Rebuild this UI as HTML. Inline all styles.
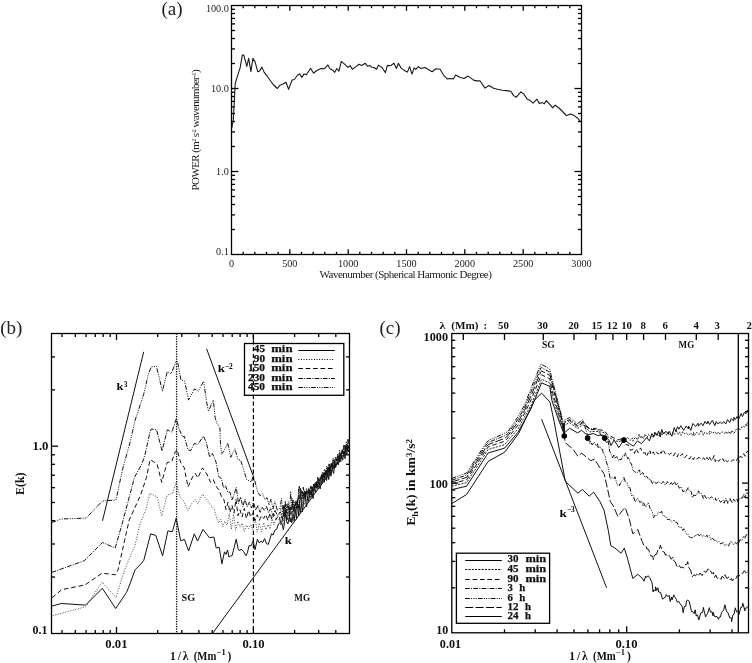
<!DOCTYPE html>
<html><head><meta charset="utf-8"><title>Power spectra</title><style>
html,body{margin:0;padding:0;background:#fff;}
body{width:752px;height:663px;overflow:hidden;}
svg{display:block;}
.ax{stroke:#000;stroke-width:1.3;fill:none;}
.ca{stroke:#1a1a1a;stroke-width:1.1;fill:none;stroke-linejoin:round;}
.c{fill:none;stroke:#111;stroke-width:1.0;stroke-linejoin:round;}
.s0{}
.s1{stroke:#444;stroke-dasharray:1 1.6;}
.s1c{stroke:#222;stroke-dasharray:2 1.3;}
.s2{stroke-dasharray:4.6 2.8;}
.s3{stroke-dasharray:4.6 1.3 1 1.3;}
.s4{stroke-dasharray:4.6 1.3 1 1.3 1 1.3 1 1.3;}
.s5{stroke-dasharray:8 2.4;}
.lg{fill:none;stroke:#000;stroke-width:1.2;}
.pw{stroke:#111;stroke-width:1.0;}
.vdot{stroke:#000;stroke-width:1.3;stroke-dasharray:1.2 1.3;}
.vdash{stroke:#000;stroke-width:1.2;stroke-dasharray:4.2 2.6;}
text{fill:#111;}
.ta,.tat{font-family:"Liberation Serif",serif;font-size:10.2px;fill:#1a1a1a;}
.tat{font-size:11px;}
.sup{font-size:6px;}
.tb{font-family:"Liberation Serif",serif;font-weight:bold;font-size:11.5px;fill:#111;}
.tt{font-family:"Liberation Serif",serif;font-weight:bold;font-size:10.8px;fill:#111;}
.tg{font-family:"Liberation Serif",serif;font-weight:bold;font-size:10.6px;fill:#111;}
.supb{font-size:7.4px;}
.subh{font-size:8.4px;}
.supt{font-family:"Liberation Serif",serif;font-weight:bold;font-size:7.6px;fill:#111;}
.tk{font-family:"Liberation Serif",serif;font-weight:bold;font-size:10.8px;fill:#000;}
.supk{font-size:7.4px;}
.tl{font-family:"Liberation Serif",serif;font-weight:bold;font-size:10.8px;fill:#111;stroke:#111;stroke-width:0.25;}
.plab{font-family:"Liberation Serif",serif;font-size:19px;fill:#222;}
</style></head>
<body><svg width="752" height="663" viewBox="0 0 752 663">
<rect width="752" height="663" fill="#fff"/>
<rect x="231.5" y="5.5" width="350.0" height="249.0" class="ax" fill="none"/>
<line x1="243.2" y1="254.5" x2="243.2" y2="251.8" class="ax"/>
<line x1="243.2" y1="5.5" x2="243.2" y2="8.2" class="ax"/>
<line x1="254.8" y1="254.5" x2="254.8" y2="251.8" class="ax"/>
<line x1="254.8" y1="5.5" x2="254.8" y2="8.2" class="ax"/>
<line x1="266.5" y1="254.5" x2="266.5" y2="251.8" class="ax"/>
<line x1="266.5" y1="5.5" x2="266.5" y2="8.2" class="ax"/>
<line x1="278.2" y1="254.5" x2="278.2" y2="251.8" class="ax"/>
<line x1="278.2" y1="5.5" x2="278.2" y2="8.2" class="ax"/>
<line x1="289.8" y1="254.5" x2="289.8" y2="249.3" class="ax"/>
<line x1="289.8" y1="5.5" x2="289.8" y2="10.7" class="ax"/>
<line x1="301.5" y1="254.5" x2="301.5" y2="251.8" class="ax"/>
<line x1="301.5" y1="5.5" x2="301.5" y2="8.2" class="ax"/>
<line x1="313.2" y1="254.5" x2="313.2" y2="251.8" class="ax"/>
<line x1="313.2" y1="5.5" x2="313.2" y2="8.2" class="ax"/>
<line x1="324.8" y1="254.5" x2="324.8" y2="251.8" class="ax"/>
<line x1="324.8" y1="5.5" x2="324.8" y2="8.2" class="ax"/>
<line x1="336.5" y1="254.5" x2="336.5" y2="251.8" class="ax"/>
<line x1="336.5" y1="5.5" x2="336.5" y2="8.2" class="ax"/>
<line x1="348.2" y1="254.5" x2="348.2" y2="249.3" class="ax"/>
<line x1="348.2" y1="5.5" x2="348.2" y2="10.7" class="ax"/>
<line x1="359.8" y1="254.5" x2="359.8" y2="251.8" class="ax"/>
<line x1="359.8" y1="5.5" x2="359.8" y2="8.2" class="ax"/>
<line x1="371.5" y1="254.5" x2="371.5" y2="251.8" class="ax"/>
<line x1="371.5" y1="5.5" x2="371.5" y2="8.2" class="ax"/>
<line x1="383.2" y1="254.5" x2="383.2" y2="251.8" class="ax"/>
<line x1="383.2" y1="5.5" x2="383.2" y2="8.2" class="ax"/>
<line x1="394.8" y1="254.5" x2="394.8" y2="251.8" class="ax"/>
<line x1="394.8" y1="5.5" x2="394.8" y2="8.2" class="ax"/>
<line x1="406.5" y1="254.5" x2="406.5" y2="249.3" class="ax"/>
<line x1="406.5" y1="5.5" x2="406.5" y2="10.7" class="ax"/>
<line x1="418.2" y1="254.5" x2="418.2" y2="251.8" class="ax"/>
<line x1="418.2" y1="5.5" x2="418.2" y2="8.2" class="ax"/>
<line x1="429.8" y1="254.5" x2="429.8" y2="251.8" class="ax"/>
<line x1="429.8" y1="5.5" x2="429.8" y2="8.2" class="ax"/>
<line x1="441.5" y1="254.5" x2="441.5" y2="251.8" class="ax"/>
<line x1="441.5" y1="5.5" x2="441.5" y2="8.2" class="ax"/>
<line x1="453.2" y1="254.5" x2="453.2" y2="251.8" class="ax"/>
<line x1="453.2" y1="5.5" x2="453.2" y2="8.2" class="ax"/>
<line x1="464.8" y1="254.5" x2="464.8" y2="249.3" class="ax"/>
<line x1="464.8" y1="5.5" x2="464.8" y2="10.7" class="ax"/>
<line x1="476.5" y1="254.5" x2="476.5" y2="251.8" class="ax"/>
<line x1="476.5" y1="5.5" x2="476.5" y2="8.2" class="ax"/>
<line x1="488.2" y1="254.5" x2="488.2" y2="251.8" class="ax"/>
<line x1="488.2" y1="5.5" x2="488.2" y2="8.2" class="ax"/>
<line x1="499.8" y1="254.5" x2="499.8" y2="251.8" class="ax"/>
<line x1="499.8" y1="5.5" x2="499.8" y2="8.2" class="ax"/>
<line x1="511.5" y1="254.5" x2="511.5" y2="251.8" class="ax"/>
<line x1="511.5" y1="5.5" x2="511.5" y2="8.2" class="ax"/>
<line x1="523.2" y1="254.5" x2="523.2" y2="249.3" class="ax"/>
<line x1="523.2" y1="5.5" x2="523.2" y2="10.7" class="ax"/>
<line x1="534.8" y1="254.5" x2="534.8" y2="251.8" class="ax"/>
<line x1="534.8" y1="5.5" x2="534.8" y2="8.2" class="ax"/>
<line x1="546.5" y1="254.5" x2="546.5" y2="251.8" class="ax"/>
<line x1="546.5" y1="5.5" x2="546.5" y2="8.2" class="ax"/>
<line x1="558.2" y1="254.5" x2="558.2" y2="251.8" class="ax"/>
<line x1="558.2" y1="5.5" x2="558.2" y2="8.2" class="ax"/>
<line x1="569.8" y1="254.5" x2="569.8" y2="251.8" class="ax"/>
<line x1="569.8" y1="5.5" x2="569.8" y2="8.2" class="ax"/>
<line x1="231.5" y1="229.5" x2="235.0" y2="229.5" class="ax"/>
<line x1="581.5" y1="229.5" x2="578.0" y2="229.5" class="ax"/>
<line x1="231.5" y1="214.9" x2="235.0" y2="214.9" class="ax"/>
<line x1="581.5" y1="214.9" x2="578.0" y2="214.9" class="ax"/>
<line x1="231.5" y1="204.5" x2="235.0" y2="204.5" class="ax"/>
<line x1="581.5" y1="204.5" x2="578.0" y2="204.5" class="ax"/>
<line x1="231.5" y1="196.5" x2="235.0" y2="196.5" class="ax"/>
<line x1="581.5" y1="196.5" x2="578.0" y2="196.5" class="ax"/>
<line x1="231.5" y1="189.9" x2="235.0" y2="189.9" class="ax"/>
<line x1="581.5" y1="189.9" x2="578.0" y2="189.9" class="ax"/>
<line x1="231.5" y1="184.4" x2="235.0" y2="184.4" class="ax"/>
<line x1="581.5" y1="184.4" x2="578.0" y2="184.4" class="ax"/>
<line x1="231.5" y1="179.5" x2="235.0" y2="179.5" class="ax"/>
<line x1="581.5" y1="179.5" x2="578.0" y2="179.5" class="ax"/>
<line x1="231.5" y1="175.3" x2="235.0" y2="175.3" class="ax"/>
<line x1="581.5" y1="175.3" x2="578.0" y2="175.3" class="ax"/>
<line x1="231.5" y1="171.5" x2="238.5" y2="171.5" class="ax"/>
<line x1="581.5" y1="171.5" x2="574.5" y2="171.5" class="ax"/>
<line x1="231.5" y1="146.5" x2="235.0" y2="146.5" class="ax"/>
<line x1="581.5" y1="146.5" x2="578.0" y2="146.5" class="ax"/>
<line x1="231.5" y1="131.9" x2="235.0" y2="131.9" class="ax"/>
<line x1="581.5" y1="131.9" x2="578.0" y2="131.9" class="ax"/>
<line x1="231.5" y1="121.5" x2="235.0" y2="121.5" class="ax"/>
<line x1="581.5" y1="121.5" x2="578.0" y2="121.5" class="ax"/>
<line x1="231.5" y1="113.5" x2="235.0" y2="113.5" class="ax"/>
<line x1="581.5" y1="113.5" x2="578.0" y2="113.5" class="ax"/>
<line x1="231.5" y1="106.9" x2="235.0" y2="106.9" class="ax"/>
<line x1="581.5" y1="106.9" x2="578.0" y2="106.9" class="ax"/>
<line x1="231.5" y1="101.4" x2="235.0" y2="101.4" class="ax"/>
<line x1="581.5" y1="101.4" x2="578.0" y2="101.4" class="ax"/>
<line x1="231.5" y1="96.5" x2="235.0" y2="96.5" class="ax"/>
<line x1="581.5" y1="96.5" x2="578.0" y2="96.5" class="ax"/>
<line x1="231.5" y1="92.3" x2="235.0" y2="92.3" class="ax"/>
<line x1="581.5" y1="92.3" x2="578.0" y2="92.3" class="ax"/>
<line x1="231.5" y1="88.5" x2="238.5" y2="88.5" class="ax"/>
<line x1="581.5" y1="88.5" x2="574.5" y2="88.5" class="ax"/>
<line x1="231.5" y1="63.5" x2="235.0" y2="63.5" class="ax"/>
<line x1="581.5" y1="63.5" x2="578.0" y2="63.5" class="ax"/>
<line x1="231.5" y1="48.9" x2="235.0" y2="48.9" class="ax"/>
<line x1="581.5" y1="48.9" x2="578.0" y2="48.9" class="ax"/>
<line x1="231.5" y1="38.5" x2="235.0" y2="38.5" class="ax"/>
<line x1="581.5" y1="38.5" x2="578.0" y2="38.5" class="ax"/>
<line x1="231.5" y1="30.5" x2="235.0" y2="30.5" class="ax"/>
<line x1="581.5" y1="30.5" x2="578.0" y2="30.5" class="ax"/>
<line x1="231.5" y1="23.9" x2="235.0" y2="23.9" class="ax"/>
<line x1="581.5" y1="23.9" x2="578.0" y2="23.9" class="ax"/>
<line x1="231.5" y1="18.4" x2="235.0" y2="18.4" class="ax"/>
<line x1="581.5" y1="18.4" x2="578.0" y2="18.4" class="ax"/>
<line x1="231.5" y1="13.5" x2="235.0" y2="13.5" class="ax"/>
<line x1="581.5" y1="13.5" x2="578.0" y2="13.5" class="ax"/>
<line x1="231.5" y1="9.3" x2="235.0" y2="9.3" class="ax"/>
<line x1="581.5" y1="9.3" x2="578.0" y2="9.3" class="ax"/>
<text x="228.8" y="12.0" class="ta" text-anchor="end">100.0</text>
<text x="228.8" y="91.8" class="ta" text-anchor="end">10.0</text>
<text x="228.8" y="175.2" class="ta" text-anchor="end">1.0</text>
<text x="228.8" y="254.6" class="ta" text-anchor="end">0.1</text>
<text x="231.5" y="266.6" class="ta" text-anchor="middle">0</text>
<text x="289.8" y="266.6" class="ta" text-anchor="middle">500</text>
<text x="348.2" y="266.6" class="ta" text-anchor="middle">1000</text>
<text x="406.5" y="266.6" class="ta" text-anchor="middle">1500</text>
<text x="464.8" y="266.6" class="ta" text-anchor="middle">2000</text>
<text x="523.2" y="266.6" class="ta" text-anchor="middle">2500</text>
<text x="581.5" y="266.6" class="ta" text-anchor="middle">3000</text>
<text x="319.6" y="277.6" class="tat" textLength="172.2" lengthAdjust="spacing">Wavenumber (Spherical Harmonic Degree)</text>
<text transform="translate(199.4,190.4) rotate(-90)" class="tat" textLength="121" lengthAdjust="spacing">POWER (m<tspan class="sup" dy="-3">2</tspan><tspan dy="3"> s</tspan><tspan class="sup" dy="-3">-2</tspan><tspan dy="3"> wavenumber</tspan><tspan class="sup" dy="-3">-1</tspan><tspan dy="3">)</tspan></text>
<text x="161.5" y="14.5" class="plab">(a)</text>
<polyline points="231.8,128.0 233.3,119.9 235.2,83.7 237.0,77.7 240.1,67.9 242.3,55.1 243.8,55.1 246.8,66.4 248.7,58.4 250.9,71.7 252.9,58.4 255.1,61.9 257.7,71.7 259.7,70.9 261.9,67.1 264.2,72.4 267.2,76.2 273.2,84.5 277.4,88.5 280.0,85.2 283.0,84.0 286.0,82.2 288.6,89.4 292.1,80.0 294.3,79.5 297.7,75.0 299.6,73.9 301.9,77.4 304.1,73.9 306.4,74.7 310.6,68.3 313.6,73.2 316.8,70.5 321.0,68.5 324.6,68.7 327.9,64.9 330.0,68.7 332.4,69.9 334.7,72.3 336.8,68.5 338.9,71.1 341.3,61.3 344.3,63.9 347.9,67.3 350.3,65.7 352.3,69.3 355.7,66.9 359.0,64.3 361.7,65.4 365.3,63.3 367.7,66.3 369.8,65.4 371.8,67.3 373.9,67.5 376.6,69.3 378.4,65.1 382.0,67.5 385.4,72.6 387.4,65.4 390.4,65.7 394.0,63.3 396.4,68.5 398.4,63.3 401.2,68.1 403.6,69.9 407.4,72.1 409.6,66.6 412.0,74.1 414.1,67.8 415.8,69.3 418.2,66.6 420.9,68.5 425.1,67.5 428.7,69.7 432.1,71.7 435.9,68.7 440.1,69.3 443.7,75.3 447.3,78.9 450.3,78.5 453.3,78.9 455.6,74.9 459.8,77.3 464.0,78.5 468.2,76.1 473.6,80.1 476.6,80.9 479.9,80.7 485.0,88.1 489.0,85.5 493.6,88.2 497.6,89.3 502.3,90.3 506.3,90.6 510.9,91.3 513.6,95.6 516.3,97.2 520.9,91.9 523.6,93.9 527.3,99.2 530.2,100.6 533.1,103.2 536.9,99.2 539.5,103.6 542.2,102.6 544.2,103.9 546.4,100.6 550.2,104.9 552.8,107.9 555.2,105.2 559.5,108.5 563.5,112.5 566.4,115.6 570.8,113.9 574.1,115.6 578.1,118.5 580.7,121.8" class="ca"/>
<rect x="51.5" y="333.5" width="298.0" height="300.0" class="ax" fill="none"/>
<line x1="62.0" y1="633.5" x2="62.0" y2="630.0" class="ax"/>
<line x1="62.0" y1="333.5" x2="62.0" y2="337.0" class="ax"/>
<line x1="75.3" y1="633.5" x2="75.3" y2="630.0" class="ax"/>
<line x1="75.3" y1="333.5" x2="75.3" y2="337.0" class="ax"/>
<line x1="86.1" y1="633.5" x2="86.1" y2="630.0" class="ax"/>
<line x1="86.1" y1="333.5" x2="86.1" y2="337.0" class="ax"/>
<line x1="95.3" y1="633.5" x2="95.3" y2="630.0" class="ax"/>
<line x1="95.3" y1="333.5" x2="95.3" y2="337.0" class="ax"/>
<line x1="103.2" y1="633.5" x2="103.2" y2="630.0" class="ax"/>
<line x1="103.2" y1="333.5" x2="103.2" y2="337.0" class="ax"/>
<line x1="110.2" y1="633.5" x2="110.2" y2="630.0" class="ax"/>
<line x1="110.2" y1="333.5" x2="110.2" y2="337.0" class="ax"/>
<line x1="116.5" y1="633.5" x2="116.5" y2="627.0" class="ax"/>
<line x1="116.5" y1="333.5" x2="116.5" y2="340.0" class="ax"/>
<line x1="157.7" y1="633.5" x2="157.7" y2="630.0" class="ax"/>
<line x1="157.7" y1="333.5" x2="157.7" y2="337.0" class="ax"/>
<line x1="181.8" y1="633.5" x2="181.8" y2="630.0" class="ax"/>
<line x1="181.8" y1="333.5" x2="181.8" y2="337.0" class="ax"/>
<line x1="198.9" y1="633.5" x2="198.9" y2="630.0" class="ax"/>
<line x1="198.9" y1="333.5" x2="198.9" y2="337.0" class="ax"/>
<line x1="212.2" y1="633.5" x2="212.2" y2="630.0" class="ax"/>
<line x1="212.2" y1="333.5" x2="212.2" y2="337.0" class="ax"/>
<line x1="223.0" y1="633.5" x2="223.0" y2="630.0" class="ax"/>
<line x1="223.0" y1="333.5" x2="223.0" y2="337.0" class="ax"/>
<line x1="232.2" y1="633.5" x2="232.2" y2="630.0" class="ax"/>
<line x1="232.2" y1="333.5" x2="232.2" y2="337.0" class="ax"/>
<line x1="240.1" y1="633.5" x2="240.1" y2="630.0" class="ax"/>
<line x1="240.1" y1="333.5" x2="240.1" y2="337.0" class="ax"/>
<line x1="247.1" y1="633.5" x2="247.1" y2="630.0" class="ax"/>
<line x1="247.1" y1="333.5" x2="247.1" y2="337.0" class="ax"/>
<line x1="253.4" y1="633.5" x2="253.4" y2="627.0" class="ax"/>
<line x1="253.4" y1="333.5" x2="253.4" y2="340.0" class="ax"/>
<line x1="294.6" y1="633.5" x2="294.6" y2="630.0" class="ax"/>
<line x1="294.6" y1="333.5" x2="294.6" y2="337.0" class="ax"/>
<line x1="318.7" y1="633.5" x2="318.7" y2="630.0" class="ax"/>
<line x1="318.7" y1="333.5" x2="318.7" y2="337.0" class="ax"/>
<line x1="335.8" y1="633.5" x2="335.8" y2="630.0" class="ax"/>
<line x1="335.8" y1="333.5" x2="335.8" y2="337.0" class="ax"/>
<line x1="51.5" y1="577.0" x2="55.0" y2="577.0" class="ax"/>
<line x1="349.5" y1="577.0" x2="346.0" y2="577.0" class="ax"/>
<line x1="51.5" y1="544.0" x2="55.0" y2="544.0" class="ax"/>
<line x1="349.5" y1="544.0" x2="346.0" y2="544.0" class="ax"/>
<line x1="51.5" y1="520.7" x2="55.0" y2="520.7" class="ax"/>
<line x1="349.5" y1="520.7" x2="346.0" y2="520.7" class="ax"/>
<line x1="51.5" y1="502.5" x2="55.0" y2="502.5" class="ax"/>
<line x1="349.5" y1="502.5" x2="346.0" y2="502.5" class="ax"/>
<line x1="51.5" y1="487.7" x2="55.0" y2="487.7" class="ax"/>
<line x1="349.5" y1="487.7" x2="346.0" y2="487.7" class="ax"/>
<line x1="51.5" y1="475.2" x2="55.0" y2="475.2" class="ax"/>
<line x1="349.5" y1="475.2" x2="346.0" y2="475.2" class="ax"/>
<line x1="51.5" y1="464.3" x2="55.0" y2="464.3" class="ax"/>
<line x1="349.5" y1="464.3" x2="346.0" y2="464.3" class="ax"/>
<line x1="51.5" y1="454.8" x2="55.0" y2="454.8" class="ax"/>
<line x1="349.5" y1="454.8" x2="346.0" y2="454.8" class="ax"/>
<line x1="51.5" y1="446.2" x2="58.0" y2="446.2" class="ax"/>
<line x1="349.5" y1="446.2" x2="343.0" y2="446.2" class="ax"/>
<line x1="51.5" y1="389.9" x2="55.0" y2="389.9" class="ax"/>
<line x1="349.5" y1="389.9" x2="346.0" y2="389.9" class="ax"/>
<line x1="51.5" y1="356.9" x2="55.0" y2="356.9" class="ax"/>
<line x1="349.5" y1="356.9" x2="346.0" y2="356.9" class="ax"/>
<text x="32.4" y="633.8" class="tb" textLength="15" lengthAdjust="spacingAndGlyphs">0.1</text>
<text x="32.5" y="450.0" class="tb" textLength="16" lengthAdjust="spacingAndGlyphs">1.0</text>
<text x="105.3" y="647.8" class="tb" textLength="22.2" lengthAdjust="spacingAndGlyphs">0.01</text>
<text x="242.5" y="647.8" class="tb" textLength="22.1" lengthAdjust="spacingAndGlyphs">0.10</text>
<text x="170.0" y="659.8" class="tb" textLength="18.4" lengthAdjust="spacing">1/&#955;</text>
<text x="193.8" y="659.8" class="tb" textLength="22.6" lengthAdjust="spacingAndGlyphs">(Mm</text>
<text x="216.6" y="655.2" class="supt" textLength="9" lengthAdjust="spacingAndGlyphs">&#8722;1</text>
<text x="227.6" y="659.8" class="tb">)</text>
<text transform="translate(23.6,483.7) rotate(-90)" class="tb" text-anchor="middle" textLength="22.6" lengthAdjust="spacingAndGlyphs">E(k)</text>
<text x="0.3" y="333.6" class="plab">(b)</text>
<line x1="176.6" y1="333.5" x2="176.6" y2="633.5" class="vdot"/>
<line x1="253.4" y1="333.5" x2="253.4" y2="633.5" class="vdash"/>
<line x1="102.5" y1="520.8" x2="143.7" y2="351.8" class="pw"/>
<line x1="206.6" y1="348.8" x2="252.9" y2="475.0" class="pw"/>
<line x1="212.6" y1="633.3" x2="349.5" y2="446.2" class="pw"/>
<text x="116.6" y="389.9" class="tk"><tspan textLength="7" lengthAdjust="spacingAndGlyphs">k</tspan><tspan class="supk" dx="0.2" dy="-3.4">3</tspan></text>
<text x="217.7" y="371.9" class="tk"><tspan textLength="7.2" lengthAdjust="spacingAndGlyphs">k</tspan><tspan class="supk" dy="-3.4">&#8722;2</tspan></text>
<text x="284.8" y="543.9" class="tk" textLength="7.1" lengthAdjust="spacingAndGlyphs">k</text>
<text x="181.5" y="600.9" class="tg" textLength="13.7" lengthAdjust="spacingAndGlyphs">SG</text>
<text x="294.3" y="600.9" class="tg" textLength="15.8" lengthAdjust="spacingAndGlyphs">MG</text>
<polyline points="51.6,606.2 61.2,603.5 85.6,605.1 102.3,588.3 115.7,608.5 126.6,592.3 130.0,583.8 135.1,569.7 140.0,564.9 143.8,560.3 150.6,533.9 155.8,535.4 162.6,555.8 167.9,530.9 172.4,531.7 176.2,518.1 180.7,540.7 184.5,539.5 188.6,551.0 194.3,533.9 197.6,541.0 203.0,529.4 209.4,537.7 213.9,537.0 216.2,548.0 219.2,547.3 221.9,563.8 224.5,551.8 226.0,554.4 227.5,550.0 229.0,557.1 230.5,555.9 232.0,555.9 233.5,550.1 236.2,539.2 238.1,548.8 239.6,550.9 241.1,549.0 243.5,551.4 245.9,555.8 247.4,552.8 249.0,545.7 251.1,545.8 253.2,541.0 255.0,549.7 257.4,539.3 259.2,542.9 261.0,541.4 262.8,542.4 264.6,538.6 266.5,543.8 268.3,544.3 270.1,538.3 271.6,533.7 273.1,535.1 274.9,530.1 276.7,529.2 278.5,523.9 280.3,522.2 282.0,523.6 283.4,529.9 284.5,523.0 285.7,510.0 286.7,521.7 287.9,524.0 289.3,516.7 290.2,522.0 291.0,517.6 291.8,522.7 293.1,513.8 294.2,521.3 295.2,509.4 296.5,519.2 297.4,499.8 298.7,515.4 299.7,505.3 300.5,512.4 301.6,502.8 302.4,511.8 303.4,504.7 304.8,491.4 305.7,501.4 306.6,506.8 307.5,497.0 308.5,501.3 309.8,495.8 311.0,497.6 312.0,492.4 313.0,498.6 314.3,489.0 315.6,491.8 316.6,483.7 317.8,488.7 319.2,483.5 320.2,488.9 321.2,480.8 322.0,483.7 323.2,478.7 324.3,482.2 325.4,472.9 326.5,480.6 327.8,473.5 328.7,479.5 330.0,470.7 330.9,476.2 332.3,468.2 333.6,473.6 334.8,464.3 335.7,467.5 337.0,462.3 338.3,465.0 339.5,457.2 340.5,461.5 341.8,456.5 342.7,460.2 344.0,451.1 345.0,458.7 345.9,451.1 346.9,454.0 347.7,448.0 348.7,452.0 349.3,447.6" class="c s0"/>
<polyline points="52.7,615.7 85.6,606.7 102.1,582.2 116.0,597.7 124.5,570.0 135.0,545.0 140.0,524.1 146.0,509.0 150.0,493.3 157.2,496.9 161.7,515.9 167.1,495.1 172.6,493.3 176.2,482.4 179.8,496.9 183.4,500.5 188.0,510.5 192.5,502.3 195.2,499.6 197.9,504.1 202.4,494.2 206.1,498.7 210.6,505.0 214.2,508.6 216.4,517.0 218.6,523.0 220.7,519.1 222.8,526.7 225.0,521.0 227.1,525.3 229.3,513.6 231.4,529.0 233.6,514.1 235.7,530.4 237.9,521.2 240.0,527.1 242.1,523.3 244.3,531.4 246.4,525.2 248.6,528.6 250.7,524.6 252.9,530.1 255.0,517.0 257.2,532.1 259.3,523.2 261.5,531.9 263.7,522.6 265.8,529.7 268.0,524.5 270.0,529.1 272.0,518.9 274.0,525.0 276.0,518.4 278.0,520.0 279.6,519.4 280.8,507.9 281.8,518.6 283.0,524.8 284.2,517.4 285.1,504.4 286.4,516.0 287.4,520.3 288.2,514.6 289.3,517.1 290.7,512.3 291.6,516.4 292.5,498.6 293.4,517.4 294.4,506.8 295.5,511.6 296.9,502.9 297.9,511.2 299.1,505.3 300.1,509.9 301.2,503.5 302.2,507.3 303.3,499.3 304.2,505.1 305.4,498.4 306.4,501.4 307.5,495.7 308.6,497.9 309.6,491.3 311.0,496.3 312.3,489.4 313.7,492.4 314.6,484.1 315.9,488.1 316.9,481.3 317.9,486.8 318.7,482.4 319.9,487.7 321.3,477.4 322.1,482.2 323.4,473.5 324.6,478.9 325.7,472.3 326.8,476.4 328.2,467.5 329.1,473.9 330.4,467.6 331.8,471.7 333.0,462.7 333.9,468.2 334.9,460.6 336.1,464.9 337.4,458.5 338.4,463.2 339.8,454.7 341.0,461.8 342.3,450.3 343.4,457.0 344.7,446.9 345.9,452.5 346.9,444.2 348.0,448.1 349.3,445.2" class="c s1"/>
<polyline points="52.1,597.7 61.7,589.7 85.1,584.9 102.1,573.2 115.4,574.8 118.0,570.0 129.2,520.0 140.5,495.4 146.5,477.3 150.0,459.8 153.6,461.6 157.2,464.3 161.7,482.4 167.1,462.5 171.7,461.6 175.3,451.6 177.1,449.8 180.7,462.5 184.3,467.9 188.0,486.9 192.5,477.0 195.2,473.3 197.9,477.9 202.4,467.9 207.0,474.3 210.6,482.4 213.3,479.7 216.0,486.0 219.4,490.9 221.6,497.0 223.8,499.2 226.0,509.6 228.0,502.3 230.0,512.6 232.0,505.2 234.0,513.2 236.0,499.3 238.0,515.7 240.0,509.8 242.1,517.0 244.3,508.4 246.4,518.6 248.6,510.5 250.7,516.9 252.9,513.2 255.0,520.8 257.2,514.8 259.3,520.3 261.5,515.8 263.7,518.5 265.8,514.6 268.0,520.6 270.0,512.9 272.0,519.7 274.0,514.6 276.0,519.6 278.0,516.0 279.6,517.5 280.8,524.9 281.7,516.4 283.0,519.4 283.9,513.9 285.2,501.4 286.2,512.8 287.5,519.3 288.7,506.6 289.7,517.8 290.9,506.9 291.9,513.8 292.8,504.2 294.2,513.3 295.5,505.7 296.5,508.9 297.6,503.4 298.8,508.2 299.9,501.8 300.8,489.8 302.0,496.0 303.2,487.2 304.1,494.3 305.3,499.9 306.3,491.5 307.7,500.1 308.6,489.1 309.6,497.4 310.5,486.4 311.7,495.0 312.6,485.7 313.7,492.0 314.8,482.8 315.8,488.3 316.7,480.8 317.5,486.0 318.4,478.9 319.5,485.0 320.3,477.6 321.3,480.9 322.1,473.0 323.0,479.9 324.0,472.6 324.8,478.5 325.8,469.4 326.6,475.8 327.7,466.5 328.9,473.8 330.1,466.8 330.9,471.5 332.2,462.3 333.2,469.6 334.5,461.8 335.6,465.3 336.6,459.1 337.5,462.8 338.3,456.2 339.2,462.3 340.3,455.2 341.6,456.5 342.7,449.5 343.7,454.1 344.8,448.5 346.1,450.0 347.4,444.6 348.3,448.1 349.2,442.5 349.3,444.0" class="c s2"/>
<polyline points="51.8,572.4 84.4,560.7 102.5,542.5 115.2,548.0 118.8,535.3 123.2,520.0 134.5,477.3 142.0,463.7 145.0,454.7 150.0,432.0 151.3,429.0 156.5,429.7 162.1,450.9 167.3,429.8 171.9,432.1 176.4,418.5 178.9,428.1 182.5,437.1 184.3,436.2 188.0,449.8 190.7,450.7 194.3,443.5 197.9,444.4 203.3,436.2 206.1,441.7 209.7,457.1 212.4,453.4 216.0,462.0 218.7,476.6 221.4,478.6 223.5,487.9 225.6,485.8 227.8,492.3 229.9,492.1 232.0,499.8 234.2,494.1 236.3,487.3 238.5,503.6 240.7,497.0 242.8,506.7 245.0,499.0 247.1,507.0 249.3,502.2 251.4,508.0 253.6,502.5 255.7,510.1 257.9,505.6 260.0,512.3 262.1,507.1 264.3,510.3 266.4,506.4 268.6,512.6 270.7,508.7 272.9,515.5 275.0,510.0 277.5,516.1 280.0,512.0 281.6,513.7 282.8,520.8 283.7,508.7 284.7,517.9 286.0,510.1 287.3,514.1 288.6,505.4 289.7,513.8 290.9,506.2 291.8,509.9 292.8,500.5 294.0,511.7 294.9,501.2 295.8,506.5 296.9,501.8 297.8,508.5 298.7,489.2 299.6,503.4 300.5,487.9 301.6,504.6 302.7,495.4 303.8,499.3 304.8,491.4 305.6,497.6 306.8,490.6 307.6,498.0 309.0,489.0 310.0,494.7 311.4,487.2 312.4,490.4 313.5,484.0 314.5,489.0 315.3,482.8 316.7,487.3 317.7,477.3 318.7,483.5 319.5,478.6 320.4,481.4 321.8,475.5 322.7,480.4 324.1,472.6 325.3,476.3 326.4,468.5 327.8,475.0 328.9,464.5 329.9,470.9 331.3,463.0 332.6,467.5 333.9,459.7 334.9,467.5 336.0,458.5 336.9,461.3 337.8,454.4 338.7,459.5 339.8,452.3 340.8,459.0 341.8,450.4 342.8,453.4 343.8,448.7 345.0,450.5 346.2,445.0 347.4,449.4 348.4,438.9 349.3,442.8" class="c s3"/>
<polyline points="51.8,522.6 60.9,519.0 86.2,518.1 102.5,500.9 116.1,500.0 122.4,469.8 130.0,442.6 135.2,420.0 143.7,394.3 148.2,374.7 151.3,366.8 156.5,366.4 162.4,391.1 167.3,371.5 171.1,373.7 176.4,360.9 177.9,363.2 180.9,379.8 184.7,381.3 188.5,400.1 194.5,388.8 198.3,391.1 203.6,381.2 206.6,401.7 208.4,411.4 211.5,404.1 213.3,399.9 215.1,417.4 216.9,423.4 219.9,427.6 220.5,443.9 221.7,453.6 223.5,451.8 227.7,443.3 230.8,457.2 235.0,448.8 238.0,459.6 240.7,460.3 246.7,479.6 251.5,482.0 253.2,474.8 257.6,491.7 260.1,495.7 262.5,493.9 265.0,499.5 267.0,497.6 269.0,505.1 271.0,499.2 273.0,509.0 275.0,501.6 277.5,510.9 280.0,508.0 281.6,498.3 282.8,513.7 283.7,505.0 285.0,516.4 286.0,504.1 286.9,510.8 288.3,501.8 289.6,510.1 290.7,491.2 291.8,507.8 293.2,499.3 294.5,509.3 295.9,500.8 296.8,507.5 298.0,498.1 299.3,486.4 300.2,495.8 301.3,501.4 302.2,491.5 303.1,499.0 304.1,489.9 305.2,495.8 306.5,488.0 307.6,493.5 308.7,487.9 310.0,494.8 311.3,485.8 312.1,492.5 313.5,484.2 314.6,488.1 315.9,482.0 316.8,487.2 317.9,477.9 319.2,483.2 320.4,475.9 321.3,478.2 322.3,472.0 323.3,477.3 324.5,469.1 325.6,474.5 326.9,465.9 328.2,473.9 329.1,463.9 330.1,469.6 331.2,463.7 332.1,469.8 333.1,458.1 334.3,464.3 335.3,456.8 336.5,461.7 337.4,456.1 338.7,460.4 339.6,450.2 340.7,456.0 342.0,449.9 342.9,453.0 344.1,445.2 345.2,452.3 346.3,441.2 347.1,449.2 348.0,439.5 349.3,441.6" class="c s4"/>
<rect x="244.5" y="343.5" width="99.3" height="51.8" class="ax"/>
<text x="253.8" y="352.2" class="tl" textLength="11.2" lengthAdjust="spacingAndGlyphs">45</text>
<text x="271.2" y="352.2" class="tl" textLength="21.3" lengthAdjust="spacingAndGlyphs">min</text>
<line x1="298.3" y1="350.5" x2="334.8" y2="350.5" class="lg s0"/>
<text x="253.8" y="361.5" class="tl" textLength="11.2" lengthAdjust="spacingAndGlyphs">90</text>
<text x="271.2" y="361.5" class="tl" textLength="21.3" lengthAdjust="spacingAndGlyphs">min</text>
<line x1="298.3" y1="359.5" x2="334.8" y2="359.5" class="lg s1"/>
<text x="248.0" y="371.2" class="tl" textLength="17.0" lengthAdjust="spacingAndGlyphs">150</text>
<text x="271.2" y="371.2" class="tl" textLength="21.3" lengthAdjust="spacingAndGlyphs">min</text>
<line x1="298.3" y1="368.5" x2="334.8" y2="368.5" class="lg s2"/>
<text x="248.0" y="380.6" class="tl" textLength="17.0" lengthAdjust="spacingAndGlyphs">230</text>
<text x="271.2" y="380.6" class="tl" textLength="21.3" lengthAdjust="spacingAndGlyphs">min</text>
<line x1="298.3" y1="378.5" x2="334.8" y2="378.5" class="lg s3"/>
<text x="248.0" y="389.9" class="tl" textLength="17.0" lengthAdjust="spacingAndGlyphs">450</text>
<text x="271.2" y="389.9" class="tl" textLength="21.3" lengthAdjust="spacingAndGlyphs">min</text>
<line x1="298.3" y1="387.5" x2="334.8" y2="387.5" class="lg s4"/>
<rect x="451.8" y="333.5" width="296.7" height="299.29999999999995" class="ax" fill="none"/>
<line x1="504.5" y1="632.8" x2="504.5" y2="629.3" class="ax"/>
<line x1="535.2" y1="632.8" x2="535.2" y2="629.3" class="ax"/>
<line x1="557.1" y1="632.8" x2="557.1" y2="629.3" class="ax"/>
<line x1="574.0" y1="632.8" x2="574.0" y2="629.3" class="ax"/>
<line x1="587.9" y1="632.8" x2="587.9" y2="629.3" class="ax"/>
<line x1="599.6" y1="632.8" x2="599.6" y2="629.3" class="ax"/>
<line x1="609.8" y1="632.8" x2="609.8" y2="629.3" class="ax"/>
<line x1="618.7" y1="632.8" x2="618.7" y2="629.3" class="ax"/>
<line x1="626.7" y1="632.8" x2="626.7" y2="626.3" class="ax"/>
<line x1="679.4" y1="632.8" x2="679.4" y2="629.3" class="ax"/>
<line x1="710.1" y1="632.8" x2="710.1" y2="629.3" class="ax"/>
<line x1="732.0" y1="632.8" x2="732.0" y2="629.3" class="ax"/>
<line x1="463.3" y1="333.5" x2="463.3" y2="340.0" class="ax"/>
<line x1="504.5" y1="333.5" x2="504.5" y2="340.0" class="ax"/>
<line x1="543.3" y1="333.5" x2="543.3" y2="340.0" class="ax"/>
<line x1="574.0" y1="333.5" x2="574.0" y2="340.0" class="ax"/>
<line x1="595.9" y1="333.5" x2="595.9" y2="340.0" class="ax"/>
<line x1="612.9" y1="333.5" x2="612.9" y2="340.0" class="ax"/>
<line x1="626.7" y1="333.5" x2="626.7" y2="340.0" class="ax"/>
<line x1="643.6" y1="333.5" x2="643.6" y2="340.0" class="ax"/>
<line x1="665.5" y1="333.5" x2="665.5" y2="340.0" class="ax"/>
<line x1="696.3" y1="333.5" x2="696.3" y2="340.0" class="ax"/>
<line x1="718.2" y1="333.5" x2="718.2" y2="340.0" class="ax"/>
<line x1="451.8" y1="587.8" x2="455.3" y2="587.8" class="ax"/>
<line x1="748.5" y1="587.8" x2="745.0" y2="587.8" class="ax"/>
<line x1="451.8" y1="561.4" x2="455.3" y2="561.4" class="ax"/>
<line x1="748.5" y1="561.4" x2="745.0" y2="561.4" class="ax"/>
<line x1="451.8" y1="542.7" x2="455.3" y2="542.7" class="ax"/>
<line x1="748.5" y1="542.7" x2="745.0" y2="542.7" class="ax"/>
<line x1="451.8" y1="528.2" x2="455.3" y2="528.2" class="ax"/>
<line x1="748.5" y1="528.2" x2="745.0" y2="528.2" class="ax"/>
<line x1="451.8" y1="516.3" x2="455.3" y2="516.3" class="ax"/>
<line x1="748.5" y1="516.3" x2="745.0" y2="516.3" class="ax"/>
<line x1="451.8" y1="506.3" x2="455.3" y2="506.3" class="ax"/>
<line x1="748.5" y1="506.3" x2="745.0" y2="506.3" class="ax"/>
<line x1="451.8" y1="497.7" x2="455.3" y2="497.7" class="ax"/>
<line x1="748.5" y1="497.7" x2="745.0" y2="497.7" class="ax"/>
<line x1="451.8" y1="490.0" x2="455.3" y2="490.0" class="ax"/>
<line x1="748.5" y1="490.0" x2="745.0" y2="490.0" class="ax"/>
<line x1="451.8" y1="483.1" x2="458.3" y2="483.1" class="ax"/>
<line x1="748.5" y1="483.1" x2="742.0" y2="483.1" class="ax"/>
<line x1="451.8" y1="438.1" x2="455.3" y2="438.1" class="ax"/>
<line x1="748.5" y1="438.1" x2="745.0" y2="438.1" class="ax"/>
<line x1="451.8" y1="411.7" x2="455.3" y2="411.7" class="ax"/>
<line x1="748.5" y1="411.7" x2="745.0" y2="411.7" class="ax"/>
<line x1="451.8" y1="393.1" x2="455.3" y2="393.1" class="ax"/>
<line x1="748.5" y1="393.1" x2="745.0" y2="393.1" class="ax"/>
<line x1="451.8" y1="378.5" x2="455.3" y2="378.5" class="ax"/>
<line x1="748.5" y1="378.5" x2="745.0" y2="378.5" class="ax"/>
<line x1="451.8" y1="366.7" x2="455.3" y2="366.7" class="ax"/>
<line x1="748.5" y1="366.7" x2="745.0" y2="366.7" class="ax"/>
<line x1="451.8" y1="356.7" x2="455.3" y2="356.7" class="ax"/>
<line x1="748.5" y1="356.7" x2="745.0" y2="356.7" class="ax"/>
<line x1="451.8" y1="348.0" x2="455.3" y2="348.0" class="ax"/>
<line x1="748.5" y1="348.0" x2="745.0" y2="348.0" class="ax"/>
<line x1="451.8" y1="340.3" x2="455.3" y2="340.3" class="ax"/>
<line x1="748.5" y1="340.3" x2="745.0" y2="340.3" class="ax"/>
<line x1="738.3" y1="333.5" x2="738.3" y2="632.8" class="ax"/>
<text x="423.6" y="340.5" class="tb" textLength="24.4" lengthAdjust="spacingAndGlyphs">1000</text>
<text x="429.6" y="488.0" class="tb" textLength="18.4" lengthAdjust="spacingAndGlyphs">100</text>
<text x="436.3" y="633.7" class="tb" textLength="12" lengthAdjust="spacingAndGlyphs">10</text>
<text x="439.8" y="647.6" class="tb" textLength="21.3" lengthAdjust="spacingAndGlyphs">0.01</text>
<text x="615.4" y="647.6" class="tb" textLength="22.1" lengthAdjust="spacingAndGlyphs">0.10</text>
<text x="569.3" y="659.8" class="tb" textLength="18.4" lengthAdjust="spacing">1/&#955;</text>
<text x="593.1" y="659.8" class="tb" textLength="22.6" lengthAdjust="spacingAndGlyphs">(Mm</text>
<text x="615.9" y="655.2" class="supt" textLength="9" lengthAdjust="spacingAndGlyphs">&#8722;1</text>
<text x="626.9" y="659.8" class="tb">)</text>
<text transform="translate(415.2,482.4) rotate(-90)" class="tb" text-anchor="middle" textLength="86.8" lengthAdjust="spacingAndGlyphs">E<tspan class="subh" dy="3.2">h</tspan><tspan dy="-3.2">(k) in km</tspan><tspan class="supb" dy="-3.5">3</tspan><tspan dy="3.5">/s</tspan><tspan class="supb" dy="-3.5">2</tspan></text>
<text x="379.5" y="333.6" class="plab">(c)</text>
<text x="439.5" y="329.0" class="tt" textLength="6" lengthAdjust="spacingAndGlyphs">&#955;</text>
<text x="451.2" y="329.0" class="tt" textLength="27.2" lengthAdjust="spacingAndGlyphs">(Mm)</text>
<text x="483.4" y="329.0" class="tt">:</text>
<text x="503.4" y="329.0" class="tt" text-anchor="middle">50</text>
<text x="542.6" y="329.0" class="tt" text-anchor="middle">30</text>
<text x="573.6" y="329.0" class="tt" text-anchor="middle">20</text>
<text x="596.8" y="329.0" class="tt" text-anchor="middle">15</text>
<text x="612.2" y="329.0" class="tt" text-anchor="middle">12</text>
<text x="626.6" y="329.0" class="tt" text-anchor="middle">10</text>
<text x="643.1" y="329.0" class="tt" text-anchor="middle">8</text>
<text x="665.1" y="329.0" class="tt" text-anchor="middle">6</text>
<text x="696.2" y="329.0" class="tt" text-anchor="middle">4</text>
<text x="717.2" y="329.0" class="tt" text-anchor="middle">3</text>
<text x="749.3" y="329.0" class="tt" text-anchor="middle">2</text>
<text x="542.0" y="347.9" class="tg" textLength="12.9" lengthAdjust="spacingAndGlyphs">SG</text>
<text x="678.6" y="347.9" class="tg" textLength="15.6" lengthAdjust="spacingAndGlyphs">MG</text>
<line x1="541.6" y1="419.2" x2="606.6" y2="587.8" class="pw"/>
<text x="559.6" y="516.8" class="tk"><tspan textLength="7.3" lengthAdjust="spacingAndGlyphs">k</tspan><tspan class="supk" dy="-5.2">&#8722;3</tspan></text>
<polyline points="451.8,503.6 466.6,494.5 488.1,461.4 504.7,452.2 518.8,433.2 534.6,400.0 541.6,393.1 550.0,402.1 553.8,420.0 565.1,480.3 566.6,482.6 577.9,493.2 582.4,489.4 589.2,496.2 593.7,492.1 599.8,501.4 604.0,510.1 608.3,530.4 610.8,545.6 615.0,548.1 621.0,553.2 624.3,548.1 627.7,559.1 632.8,578.5 637.8,574.3 642.1,578.1 644.0,581.2 645.7,576.0 646.3,577.5 648.1,575.7 649.7,577.6 652.0,582.7 653.2,592.0 653.4,590.1 655.3,590.8 655.6,586.8 656.7,590.5 657.9,587.8 658.6,592.0 660.6,592.4 662.6,599.3 663.8,598.0 665.8,596.9 666.1,594.5 667.9,596.6 669.1,595.3 670.2,601.5 671.5,597.0 672.0,600.0 673.8,594.9 674.3,596.2 676.5,599.7 677.2,602.2 678.8,601.5 680.2,603.7 682.2,606.6 683.2,612.8 684.3,606.3 685.7,606.6 686.7,600.5 687.7,600.2 689.2,601.2 691.5,611.5 692.9,611.7 694.1,613.7 695.1,609.8 696.3,616.1 697.5,614.8 698.8,620.0 700.8,612.9 702.7,612.3 703.3,607.4 705.6,617.0 706.3,615.3 707.8,612.9 709.3,607.6 710.5,612.1 711.8,611.6 713.0,615.9 713.0,612.1 714.7,616.7 717.0,616.5 718.6,619.4 718.9,617.3 720.3,617.1 721.6,612.5 723.7,610.1 724.9,604.8 726.6,611.5 728.0,612.6 729.7,617.9 731.3,617.8 731.6,621.8 732.8,615.0 734.1,614.1 735.3,607.8 736.5,611.9 738.4,611.8 739.0,614.5 740.6,607.7 741.9,607.4 742.8,603.2 745.0,610.9 745.0,608.5 747.1,607.6 748.3,606.0" class="c s0"/>
<polyline points="451.8,481.9 466.6,477.4 486.5,446.7 488.1,444.9 489.8,443.9 503.0,439.0 504.7,438.3 508.0,435.6 518.0,422.1 518.8,420.7 524.6,410.3 531.2,395.5 532.2,393.0 534.6,387.1 541.0,371.5 541.6,371.0 549.7,375.3 551.4,379.3 562.2,420.0 564.3,433.2 564.3,435.8 565.1,442.6 572.6,448.7 577.9,456.2 581.7,453.2 586.2,457.0 590.7,460.7 594.5,459.2 601.3,469.8 604.3,474.3 607.3,487.9 610.3,501.4 613.3,506.0 617.9,516.5 622.4,510.5 625.2,507.6 629.4,519.4 632.8,533.8 637.8,529.6 642.1,541.4 644.4,546.5 646.6,547.0 646.8,549.0 648.6,549.5 650.7,555.9 652.8,556.0 653.3,559.6 655.0,554.7 656.5,554.3 658.4,548.5 659.6,548.8 660.3,545.2 662.6,551.5 664.4,552.1 665.3,555.1 666.5,554.4 667.8,556.5 669.3,555.4 671.2,559.3 673.0,557.1 673.8,560.9 675.3,561.9 677.2,567.2 679.4,565.6 680.5,567.7 682.2,567.0 683.4,568.1 684.9,564.7 687.2,564.0 687.7,561.6 688.9,567.8 690.6,570.0 692.3,576.8 693.8,574.7 695.4,575.9 697.0,574.1 698.2,576.0 700.0,573.0 702.2,575.6 704.1,571.1 706.1,572.4 708.1,568.9 708.5,570.1 710.1,570.1 712.0,573.7 713.4,572.2 714.5,577.5 715.8,575.1 717.4,578.4 718.9,577.2 721.0,579.3 722.1,576.2 724.3,578.3 724.9,574.8 726.9,578.5 729.0,576.8 730.2,579.8 731.5,578.3 732.3,581.0 734.0,578.7 735.6,579.1 737.4,575.5 738.3,577.0 740.3,574.0 742.6,573.5 744.3,570.6 746.1,573.0 748.2,570.4 748.3,573.0" class="c s5"/>
<polyline points="451.8,478.5 466.6,473.0 486.5,442.3 488.1,441.1 489.8,439.8 503.0,434.0 504.7,433.1 508.0,431.5 518.0,416.6 518.8,415.2 524.6,405.0 531.2,387.9 532.2,385.3 534.6,379.5 541.0,363.9 541.6,364.3 549.7,369.0 551.3,376.0 562.7,420.0 564.3,433.0 564.3,420.3 569.6,417.6 577.6,423.6 582.9,419.6 589.9,443.8 590.0,440.5 592.3,445.0 594.0,442.0 596.2,445.8 597.4,443.5 598.3,448.5 599.8,446.2 601.3,449.2 602.6,448.7 602.8,451.6 605.4,456.6 605.8,460.1 608.1,467.0 610.3,479.2 612.3,477.0 614.7,479.3 614.9,476.6 617.2,484.9 619.3,484.2 619.4,485.6 621.5,481.3 623.8,479.0 623.9,476.9 625.2,481.6 627.2,482.9 628.4,487.4 629.7,486.6 631.7,496.1 633.0,495.1 635.4,502.1 637.5,498.0 639.9,502.5 641.5,501.1 643.0,506.3 643.5,502.8 645.8,507.0 648.2,502.7 650.1,508.4 652.2,511.3 653.5,517.9 655.1,515.0 657.0,515.3 658.4,511.8 660.3,513.3 661.5,511.2 663.3,516.1 665.6,516.2 667.0,519.4 669.6,519.3 671.9,522.1 674.3,519.8 675.5,522.7 676.9,522.2 679.1,527.7 681.2,526.7 682.8,530.5 683.9,528.8 686.3,533.8 687.6,533.7 689.3,537.0 690.7,537.7 693.3,537.6 694.9,535.4 696.5,536.1 697.4,533.6 699.3,535.9 701.2,534.0 702.5,536.6 703.7,535.2 705.3,537.0 706.9,535.1 707.6,537.1 709.3,535.5 711.0,540.2 712.4,538.1 714.8,541.0 716.0,540.2 717.4,542.3 718.8,541.2 720.7,544.0 723.3,542.3 724.7,546.1 726.1,544.3 728.4,546.0 731.0,541.0 733.5,544.8 735.1,542.6 736.6,543.7 738.0,541.6 738.0,545.8 739.8,539.7 742.0,540.7 743.6,536.0 744.9,538.2 746.4,534.4 748.2,535.0 748.3,534.0" class="c s4"/>
<polyline points="451.8,480.2 466.6,475.1 486.5,444.4 488.1,442.9 489.8,441.8 503.0,436.4 504.7,435.7 508.0,433.5 518.0,419.3 518.8,417.9 524.6,407.6 531.2,391.6 532.2,389.1 534.6,383.2 541.0,367.6 541.6,367.6 549.7,372.1 551.5,382.6 561.6,420.0 564.3,433.4 564.3,422.3 569.6,419.6 577.6,425.6 582.9,421.6 589.6,428.9 596.2,428.3 607.0,443.2 608.1,440.5 609.7,451.1 610.3,452.3 612.6,457.9 613.9,454.6 614.9,458.0 616.9,456.7 618.6,460.7 619.4,459.3 621.2,459.8 623.2,455.1 624.8,455.9 625.4,452.9 627.7,458.8 629.0,457.8 629.9,462.0 631.5,464.0 632.8,470.0 634.5,471.6 637.0,473.2 639.5,469.8 640.5,474.9 642.7,472.5 645.0,477.5 646.7,476.2 648.8,479.7 650.1,478.9 652.6,483.8 653.5,481.6 656.1,483.4 658.7,481.8 661.3,483.8 663.3,481.4 665.3,485.1 667.5,481.6 669.5,484.9 671.3,482.5 672.7,485.0 674.4,481.8 676.2,485.0 677.2,483.2 679.5,488.3 681.0,486.8 683.1,491.9 683.9,490.5 685.5,492.4 688.1,487.7 689.0,490.3 691.4,491.8 692.4,497.6 693.7,495.0 696.1,495.6 698.6,490.8 699.1,493.3 700.9,493.0 703.5,498.4 704.2,494.7 706.3,498.5 708.0,497.1 709.4,498.8 711.6,496.8 713.8,499.4 715.3,497.9 716.0,500.6 718.4,498.5 720.6,502.4 722.9,499.9 724.2,503.2 725.9,498.2 727.8,503.4 730.1,498.7 732.0,503.0 733.7,499.1 735.2,501.4 737.1,498.8 738.0,502.1 740.3,497.8 742.5,498.1 743.8,494.1 745.0,497.8 746.4,492.6 747.7,493.8 748.3,492.0" class="c s3"/>
<polyline points="451.8,483.8 466.6,479.8 486.5,449.1 488.1,447.0 489.8,446.2 503.0,441.8 504.7,441.2 508.0,437.9 518.0,425.1 518.8,423.7 524.6,413.3 531.2,399.7 532.2,397.2 534.6,391.4 541.0,375.7 541.6,374.8 549.7,378.7 551.7,389.2 560.5,420.0 564.3,433.8 564.3,423.3 569.6,420.6 577.6,426.6 582.9,422.6 589.6,429.9 596.2,429.3 604.2,430.6 607.5,434.6 614.0,438.0 619.0,440.0 623.9,437.0 626.2,444.8 628.4,444.9 630.5,450.4 633.1,449.1 634.5,453.4 636.1,448.7 638.2,452.7 640.5,447.9 642.7,453.1 645.2,452.7 646.5,456.6 648.2,452.7 649.4,454.3 650.0,450.9 651.2,454.6 653.2,451.8 654.6,454.6 656.2,451.8 658.3,454.1 660.0,451.3 661.1,453.5 662.8,449.5 665.3,453.8 667.1,452.4 669.3,454.5 671.3,453.0 673.4,456.1 675.1,452.9 677.3,456.9 678.5,453.6 680.2,455.9 682.4,453.9 684.5,458.0 686.8,455.2 689.3,459.1 691.3,455.9 693.4,459.7 694.7,456.9 696.7,458.8 699.3,457.5 701.5,459.8 703.7,457.8 705.5,460.6 706.9,457.5 709.2,460.6 709.6,457.4 711.8,461.1 714.1,455.5 715.3,461.6 717.0,459.0 718.6,461.4 720.1,459.5 721.5,461.0 722.9,458.6 724.7,462.6 725.7,460.4 727.4,461.8 729.8,460.0 731.5,461.3 733.0,459.5 735.6,461.8 738.2,457.7 738.6,463.1 740.1,456.2 742.4,457.5 743.7,453.6 745.2,456.3 746.7,451.9 748.3,451.0" class="c s2"/>
<polyline points="451.8,486.1 466.6,482.7 486.5,452.0 488.1,449.5 489.8,449.0 503.0,445.1 504.7,444.6 508.0,440.7 518.0,428.8 518.8,427.3 524.6,416.8 531.2,404.8 532.2,402.3 534.6,396.5 541.0,380.8 541.6,379.3 549.7,382.9 551.8,394.1 559.7,420.0 564.3,434.1 564.3,425.3 569.6,422.6 577.6,428.6 582.9,424.6 589.6,431.9 596.2,431.3 604.2,432.6 607.5,436.6 614.0,440.0 619.0,442.0 623.9,439.0 625.5,439.6 627.7,437.6 630.1,440.4 632.5,437.9 633.0,441.2 635.2,437.3 637.8,439.8 639.1,434.1 640.6,438.3 641.8,436.0 643.4,438.6 645.0,434.3 647.0,437.5 648.5,434.5 650.3,437.5 651.6,433.8 653.4,437.9 654.7,431.8 656.3,435.6 657.6,433.9 659.7,436.2 660.0,432.0 661.9,435.3 663.7,432.2 666.1,435.2 668.4,432.2 669.9,434.5 672.5,432.2 674.0,434.6 676.5,431.4 678.1,434.3 679.5,431.9 680.9,435.4 682.8,431.6 685.2,434.1 686.6,433.2 688.8,435.2 690.6,433.0 693.1,435.8 693.4,432.4 694.6,435.4 696.6,432.2 699.0,434.6 701.4,430.0 703.4,435.3 704.7,432.3 707.3,433.8 709.5,431.5 709.6,434.3 710.8,431.5 712.3,433.4 714.8,431.7 716.9,434.2 718.4,432.0 719.8,433.9 722.2,431.8 724.5,433.7 725.7,431.5 727.1,433.9 728.9,431.3 730.5,434.1 731.7,430.4 734.0,433.3 736.5,428.9 738.5,430.9 738.6,428.9 740.5,429.3 742.4,426.2 744.8,427.1 746.4,423.5 746.7,425.7 748.3,422.0" class="c s1c"/>
<polyline points="451.8,489.6 466.6,486.2 486.5,455.5 488.1,453.0 489.8,452.5 503.0,448.6 504.7,448.1 508.0,444.2 518.0,432.3 518.8,430.8 524.6,420.3 531.2,408.3 532.2,405.8 534.6,400.0 541.0,384.3 541.6,382.8 549.7,386.4 552.0,400.8 558.6,420.0 564.3,434.5 564.3,432.9 569.6,428.3 577.6,432.9 581.6,430.3 586.9,434.9 593.6,433.6 597.6,435.6 601.5,434.9 605.5,436.3 609.5,440.9 610.9,445.6 614.2,440.2 618.8,447.6 624.1,439.6 629.5,443.6 633.5,446.2 637.4,440.9 641.4,443.6 646.8,437.6 649.4,440.9 652.1,433.6 654.0,436.4 655.5,432.7 657.1,435.4 658.6,430.9 660.3,437.0 661.7,429.4 663.3,433.5 666.1,431.4 668.3,434.3 669.2,431.2 671.8,436.3 674.3,427.6 675.9,431.7 677.5,426.6 678.9,429.2 680.8,425.7 683.6,430.3 686.2,426.1 688.4,428.9 688.6,426.1 690.8,430.4 692.8,423.5 695.6,426.4 698.2,423.2 698.3,426.2 701.1,423.2 703.0,425.7 705.0,421.4 706.8,424.0 708.0,421.1 709.5,424.6 712.4,420.4 714.8,425.6 716.2,421.6 717.6,423.8 720.3,422.2 721.9,423.7 723.7,421.5 725.7,424.0 727.6,419.6 729.7,422.5 731.2,418.7 733.7,420.9 733.8,417.3 735.3,419.5 737.2,416.4 738.6,419.2 741.1,413.5 742.5,416.6 744.2,412.5 746.1,413.7 746.7,410.8 748.3,410.5" class="c s0"/>
<circle cx="564.3" cy="436.0" r="2.8" fill="#000"/>
<circle cx="587.6" cy="438.1" r="2.8" fill="#000"/>
<circle cx="604.6" cy="438.1" r="2.8" fill="#000"/>
<circle cx="623.9" cy="440.1" r="2.8" fill="#000"/>
<rect x="456.4" y="553.2" width="93.2" height="70.1" fill="#fff" class="ax"/>
<text x="507.6" y="562.3" class="tl" textLength="11.0" lengthAdjust="spacingAndGlyphs">30</text>
<text x="525.4" y="562.3" class="tl" textLength="20.7" lengthAdjust="spacingAndGlyphs">min</text>
<line x1="465.2" y1="560.5" x2="501.8" y2="560.5" class="lg s0"/>
<text x="507.6" y="571.9" class="tl" textLength="11.0" lengthAdjust="spacingAndGlyphs">45</text>
<text x="525.4" y="571.9" class="tl" textLength="20.7" lengthAdjust="spacingAndGlyphs">min</text>
<line x1="465.2" y1="569.5" x2="501.8" y2="569.5" class="lg s1c"/>
<text x="507.6" y="581.8" class="tl" textLength="11.0" lengthAdjust="spacingAndGlyphs">90</text>
<text x="525.4" y="581.8" class="tl" textLength="20.7" lengthAdjust="spacingAndGlyphs">min</text>
<line x1="465.2" y1="579.5" x2="501.8" y2="579.5" class="lg s2"/>
<text x="507.6" y="591.3" class="tl" textLength="5.4" lengthAdjust="spacingAndGlyphs">3</text>
<text x="519.3" y="591.3" class="tl">h</text>
<line x1="465.2" y1="588.5" x2="501.8" y2="588.5" class="lg s3"/>
<text x="507.6" y="600.9" class="tl" textLength="5.4" lengthAdjust="spacingAndGlyphs">6</text>
<text x="519.3" y="600.9" class="tl">h</text>
<line x1="465.2" y1="598.5" x2="501.8" y2="598.5" class="lg s4"/>
<text x="507.6" y="610.2" class="tl" textLength="11.0" lengthAdjust="spacingAndGlyphs">12</text>
<text x="524.9" y="610.2" class="tl">h</text>
<line x1="465.2" y1="607.5" x2="501.8" y2="607.5" class="lg s5"/>
<text x="507.6" y="619.3" class="tl" textLength="11.0" lengthAdjust="spacingAndGlyphs">24</text>
<text x="524.9" y="619.3" class="tl">h</text>
<line x1="465.2" y1="616.5" x2="501.8" y2="616.5" class="lg s0"/>
</svg></body></html>
